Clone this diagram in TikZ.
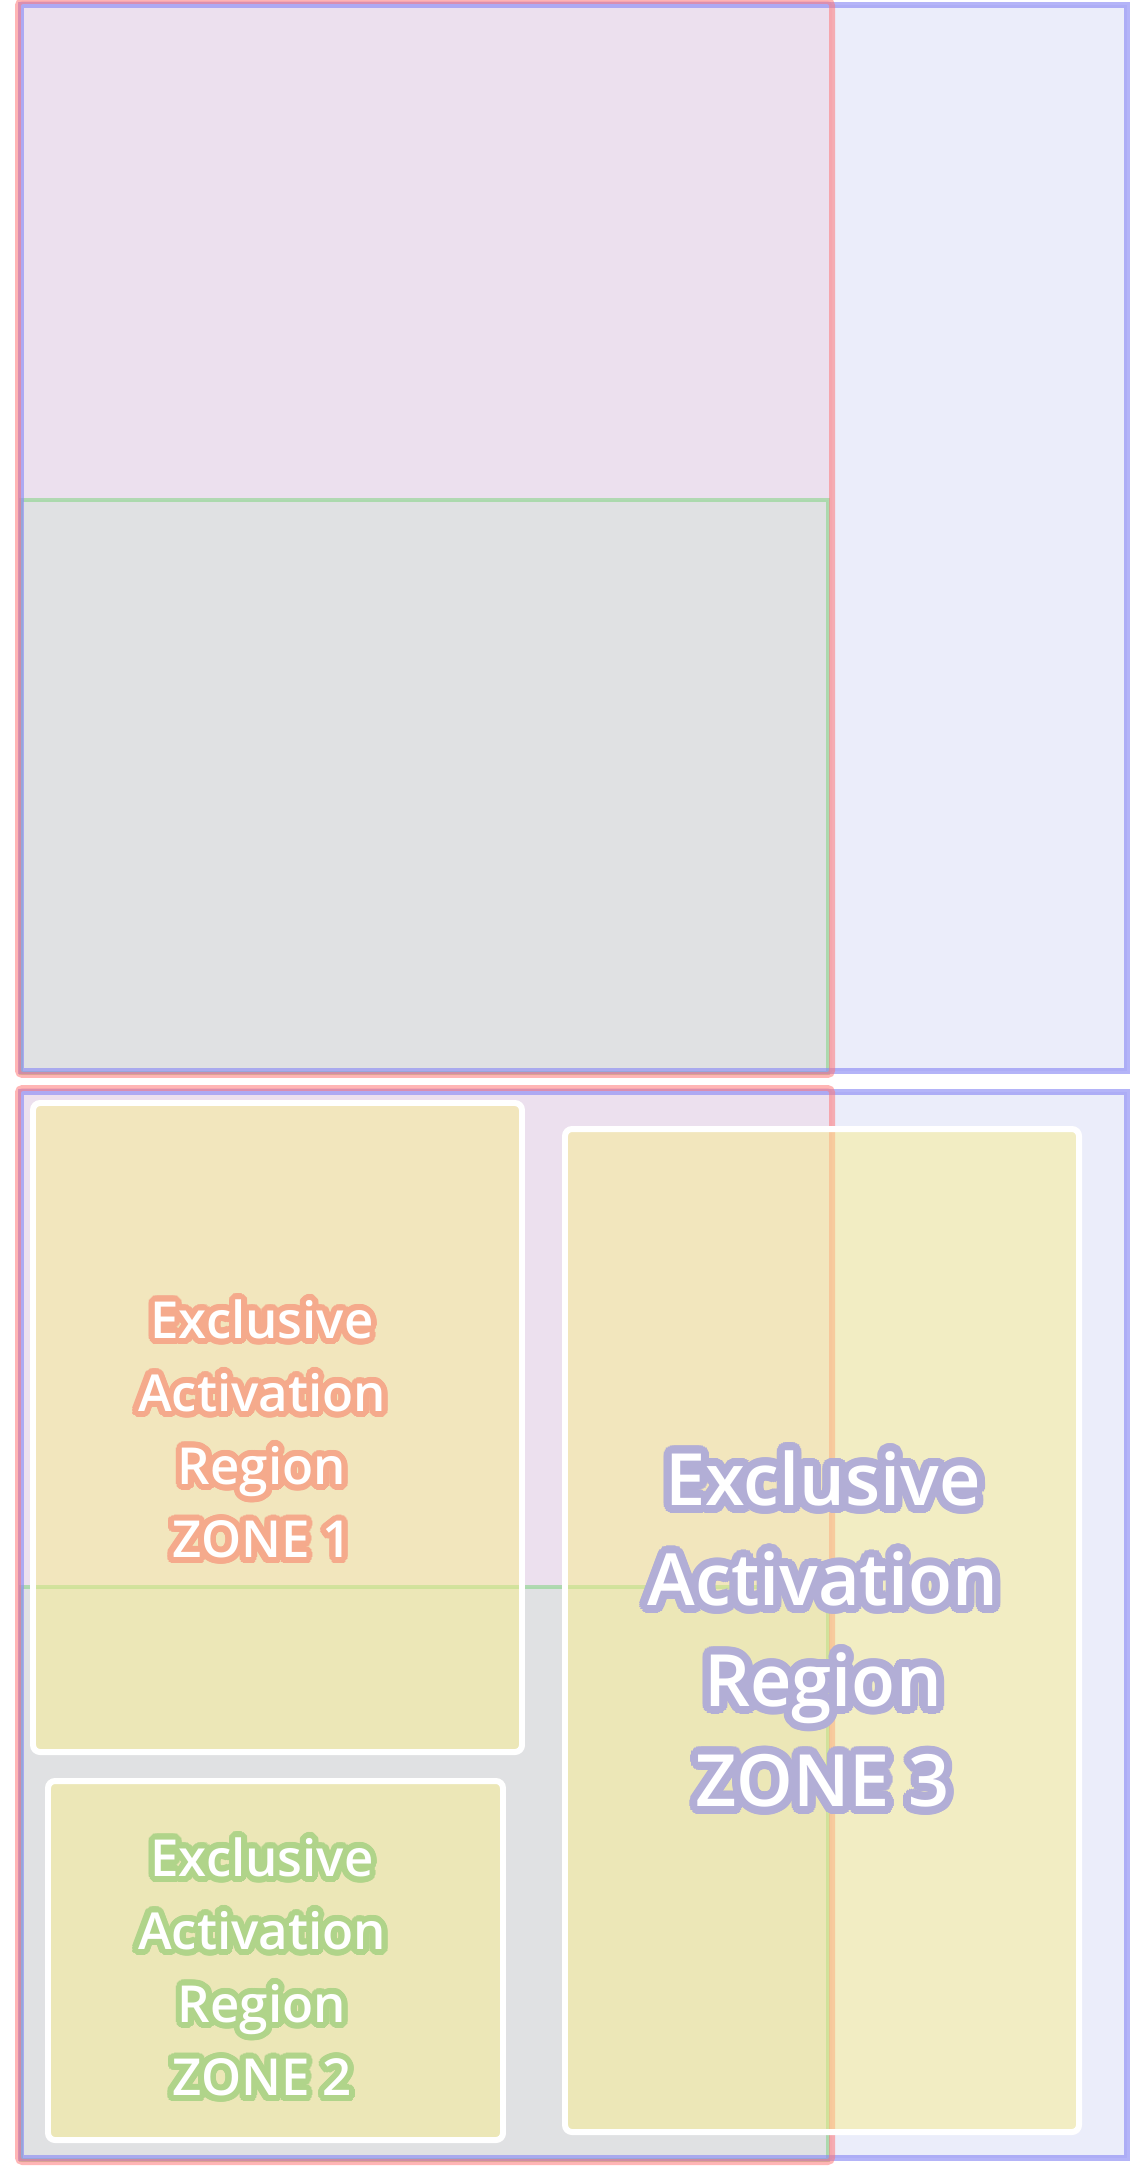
\documentclass[tikz,border=0pt]{standalone}
\usepackage{fontspec}
\setmainfont{Open Sans}[UprightFont={* Semibold}]
\usepackage{contour}
\contournumber{24}
\definecolor{bluefill}{RGB}{235,237,250}
\definecolor{redfill}{RGB}{236,224,238}
\definecolor{greyfill}{RGB}{224,225,227}
\definecolor{blueline}{RGB}{140,140,245}
\definecolor{redline}{RGB}{255,120,120}
\definecolor{greenline}{RGB}{120,210,120}
\definecolor{zonefill}{RGB}{250,238,135}
\definecolor{zoneone}{RGB}{245,170,140}
\definecolor{zonetwo}{RGB}{176,212,138}
\definecolor{zonethree}{RGB}{178,174,214}
\begin{document}
\begin{tikzpicture}
[x=0.01cm,y=-0.01cm,
  bluebox/.style={draw=blueline,draw opacity=.65,line width=1.7pt},%
  redbox/.style={draw=redline,draw opacity=.55,line width=1.7pt,rounded corners=1.2pt},%
  greenbox/.style={draw=greenline,draw opacity=.5,line width=1.4pt},%
  zonebox/.style={draw=white,line width=1.7pt,fill=zonefill,fill opacity=.47,rounded corners=2pt},%
  smalllabel/.style={align=center,text=white,font=\contourlength{1.7pt}\fontsize{14.5}{20.8}\selectfont},%
  biglabel/.style={align=center,text=white,font=\contourlength{2.3pt}\fontsize{20.5}{28.5}\selectfont}]
\useasboundingbox (0,0) rectangle (1138,2170);
% fills of the two panels
\foreach \dy in {0,1087} {
  \fill[bluefill] (21,5+\dy) rectangle (1127,1071+\dy);
  \fill[redfill,rounded corners=1.2pt] (18,1+\dy) rectangle (832,1075+\dy);
  \fill[greyfill] (21,500+\dy) rectangle (828,1073+\dy);
}
% outlines of the two panels
\foreach \dy in {0,1087} {
  \draw[greenbox] (21,500+\dy) rectangle (828,1073+\dy);
  \draw[bluebox] (21,5+\dy) rectangle (1127,1071+\dy);
  \draw[redbox] (18,1+\dy) rectangle (832,1075+\dy);
}
% exclusive activation regions
\draw[zonebox] (33,1103) rectangle (522,1752);
\draw[zonebox] (48,1781) rectangle (503,2140);
\draw[zonebox] (565,1129) rectangle (1079,2132);
% labels
\node (zone1) at (262,1432) [smalllabel] {\contour{zoneone}{Exclusive}\\
  \contour{zoneone}{Activation}\\ \contour{zoneone}{Region}\\ \contour{zoneone}{ZONE 1}};
\node (zone2) at (262,1970) [smalllabel] {\contour{zonetwo}{Exclusive}\\
  \contour{zonetwo}{Activation}\\ \contour{zonetwo}{Region}\\ \contour{zonetwo}{ZONE 2}};
\node (zone3) at (823,1633) [biglabel] {\contour{zonethree}{Exclusive}\\
  \contour{zonethree}{Activation}\\ \contour{zonethree}{Region}\\ \contour{zonethree}{ZONE 3}};
\end{tikzpicture}
\end{document}
